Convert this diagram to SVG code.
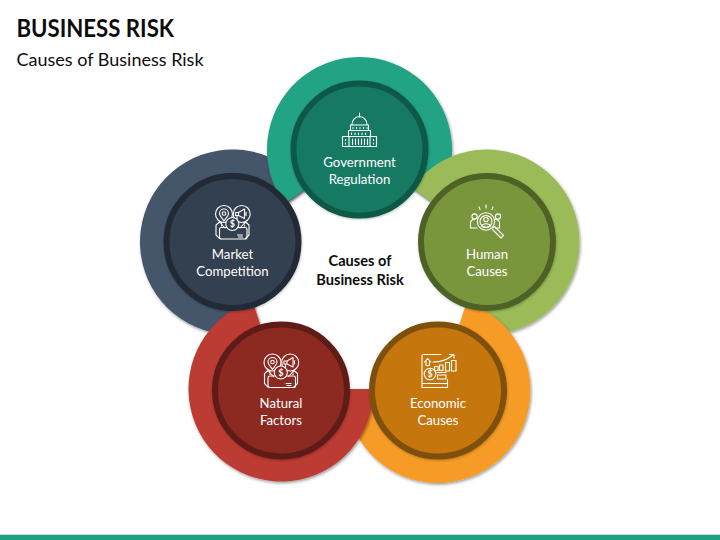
<svg xmlns="http://www.w3.org/2000/svg" width="720" height="540" viewBox="0 0 720 540">
<style>
text{font-family:"Lato","Liberation Sans",sans-serif}
.title{font-size:24px;font-weight:700;fill:#0d0d0d}
.sub{font-size:18px;fill:#0d0d0d}
.center{font-size:14.6px;font-weight:700;fill:#0d0d0d;text-anchor:middle}
.label{font-size:13.2px;fill:#fff;text-anchor:middle}
.ico{fill:none;stroke:#fff;stroke-width:1.1;stroke-linejoin:round;stroke-linecap:round}
.dollar{font-size:9px;font-weight:700;fill:#fff;stroke:none;text-anchor:middle}
.inner{stroke-width:6}
</style>
<defs>
<filter id="sh" x="-20%" y="-20%" width="140%" height="140%"><feDropShadow dx="1" dy="1.5" stdDeviation="1.5" flood-color="#000" flood-opacity="0.4"/></filter>
<filter id="sh2" x="-20%" y="-20%" width="140%" height="140%"><feDropShadow dx="0.5" dy="1" stdDeviation="1.2" flood-color="#000" flood-opacity="0.25"/></filter>
<path id="ring" d="M92.5 0A92.5 92.5 0 1 1-28.58-87.97L-18.54-57.06A60 60 0 1 0 60 0Z"/>
<g id="biz" class="ico">
<circle cx="224" cy="214" r="8.5"/>
<path d="M224 221c-2-3-4.500-5-4.500-7.500a4.500 4.500 0 0 1 9 0c0 2.500-2.500 4.500-4.500 7.500z"/><circle cx="224" cy="213.500" r="1.800"/>
<circle cx="241.700" cy="214" r="8.500"/>
<path d="M235.500 212.500h3l6-3.500v9.500l-6-3h-3zM238.500 212.500v3M237 215.500v5M246 212v3.500"/>
<path d="M225 228l-5.500-6-3.500 3v10l3.500 3.500M240 228l5.500-6 3.500 3v10l-3.500 3.500"/>
<rect x="219.500" y="227.500" width="27.500" height="11.500" rx="2"/>
<circle cx="232.300" cy="224" r="6.500" style="fill:currentColor"/>
<text class="dollar" x="232.300" y="227.200">$</text>
<path d="M237.500 235h5M238.500 237h4M221.500 225v1M221.500 222.500v1M244.500 225v1M244.500 222.500v1"/>
</g>
</defs>

<rect width="720" height="540" fill="#fff"/>
<text class="title" x="16.500" y="36.500" textLength="157.500" lengthAdjust="spacingAndGlyphs">BUSINESS RISK</text>
<text class="sub" x="16.500" y="65.500">Causes of Business Risk</text>

<g id="rings">
<g filter="url(#sh)"><use href="#ring" transform="translate(232.500 242) rotate(72)" fill="#44546A"/></g>
<g filter="url(#sh)"><use href="#ring" transform="translate(359.500 149.500) rotate(144)" fill="#20A384"/></g>
<g filter="url(#sh)"><use href="#ring" transform="translate(487 242) rotate(216)" fill="#9BBB59"/></g>
<g filter="url(#sh)"><use href="#ring" transform="translate(438 390.500) rotate(288)" fill="#F59B27"/></g>
<g filter="url(#sh)"><use href="#ring" transform="translate(281 389) rotate(0)" fill="#BC3A30"/></g>
</g>

<g id="node-market">
<circle class="inner" cx="232.500" cy="242" r="66" fill="#333F50" stroke="#222A35" filter="url(#sh2)"/>
<use href="#biz" style="color:#333F50"/>
<text class="label" x="232.500" y="258.500">Market</text>
<text class="label" x="232.500" y="275.500">Competition</text>
</g>

<g id="node-government">
<circle class="inner" cx="359.500" cy="149.500" r="66" fill="#177A64" stroke="#0F5947" filter="url(#sh2)"/>
<g class="ico">
<path d="M359.500 113v4M352 124.500a7.500 8 0 0 1 15 0M350.500 125h18v5.500h-18zM348.500 130.500h22v6h-22zM342.500 136.500h34v10h-34zM349 136.500v10M370 136.500v10"/>
<path d="M353 127.500v1M356.500 127.500v1M360 127.500v1M363.500 127.500v1M367 127.500v1M351.500 133v1.500M355 133v1.500M358.500 133v1.500M362 133v1.500M365.500 133v1.500M345.500 139.500v1M345.500 143v1M373.500 139.500v1M373.500 143v1M352.500 139v5.500M355.500 139v5.500M358.500 139v5.500M361.500 139v5.500M364.500 139v5.500M367.500 139v5.500"/>
</g>
<text class="label" x="359.500" y="166.500">Government</text>
<text class="label" x="359.500" y="183.500">Regulation</text>
</g>

<g id="node-human">
<circle class="inner" cx="487" cy="242" r="66" fill="#7A963E" stroke="#4F6228" filter="url(#sh2)"/>
<g class="ico">
<circle cx="486" cy="221.500" r="8.700"/><circle cx="486" cy="221.500" r="6"/>
<circle cx="486" cy="219.500" r="2.200"/><path d="M481.500 226c1-3 8-3 9 0l-4.500 1.500z"/>
<path d="M492.500 228l2-1.500 9 9-2.500 2.500-8.500-8.500M486 205v3M479 207l1 2.500M493 207l-1 2.500"/>
<circle cx="474.500" cy="216.500" r="2.600"/><circle cx="498" cy="216.500" r="2.600"/>
<path d="M477 228h-6.500v-5c0-2.500 2-3.500 4-3.500M495.500 219.500c2 0 4 1 4 3.500v5h-4"/>
</g>
<text class="label" x="487" y="258.500">Human</text>
<text class="label" x="487" y="275.500">Causes</text>
</g>

<g id="node-economic">
<circle class="inner" cx="438" cy="390.500" r="66" fill="#C5760A" stroke="#7F4F08" filter="url(#sh2)"/>
<g class="ico">
<path d="M441 354.500h-17.500a1.500 1.500 0 0 0-1.500 1.500v31.500h25.500v-8M422 383.500h25.500M424.500 362l3.200-3.500 3.200 3.500M426 361v4.500h3.500v-4.500"/>
<circle cx="430" cy="374" r="5.800"/>
<text class="dollar" x="430" y="377.200">$</text>
<path d="M433 362c8 0 14-2 20-7M449.500 354.500h4.500v3.500"/>
<path d="M434.500 366.500h3.500v4h-3.500zM439.500 365h3.500v5.500h-3.500zM445.500 362.500h4v8.500h-4zM451.500 360.500h4.500v10.500h-4.500zM437.500 375h8.500v4h-8.500zM437 372.500h9"/>
</g>
<text class="label" x="438" y="407.500">Economic</text>
<text class="label" x="438" y="424.500">Causes</text>
</g>

<g id="node-natural">
<circle class="inner" cx="281" cy="390.500" r="66" fill="#8C2A22" stroke="#5E1C16" filter="url(#sh2)"/>
<use href="#biz" transform="translate(48.500 148.500)" style="color:#8C2A22"/>
<text class="label" x="281" y="407.500">Natural</text>
<text class="label" x="281" y="424.500">Factors</text>
</g>

<g id="center-label">
<text class="center" x="360" y="266">Causes of</text>
<text class="center" x="360" y="285">Business Risk</text>
</g>

<rect id="footer-line" x="0" y="534" width="720" height="1" fill="#B9DFD5"/>
<rect id="footer" x="0" y="535" width="720" height="5" fill="#20A082"/>
</svg>
